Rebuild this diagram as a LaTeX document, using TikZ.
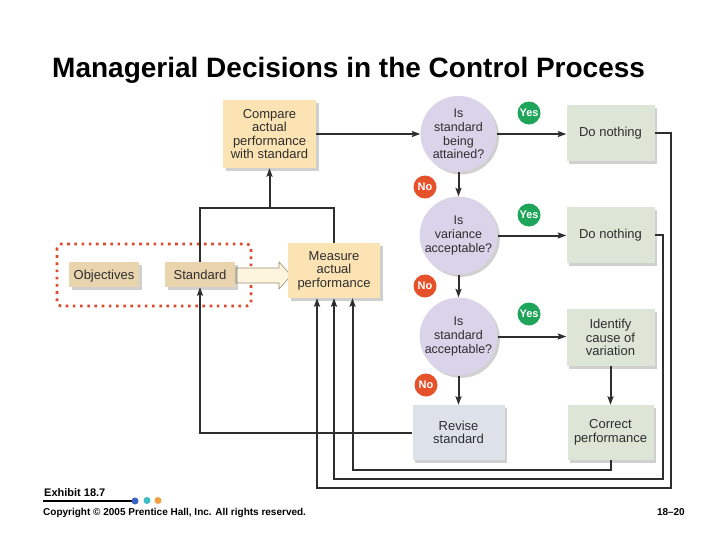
\documentclass[tikz,border=0pt]{standalone}
\usepackage{fontspec}
\setmainfont{Liberation Sans}
\usetikzlibrary{shadows,arrows.meta}
\definecolor{peach}{HTML}{FCE3B4}
\definecolor{tan}{HTML}{E9D4AE}
\definecolor{lav}{HTML}{DAD3E9}
\definecolor{sage}{HTML}{DCE5D6}
\definecolor{bluegray}{HTML}{DDE2EA}
\definecolor{yesgreen}{HTML}{1FA55A}
\definecolor{nored}{HTML}{E4512A}
\definecolor{dotred}{HTML}{DC4A2E}
\definecolor{lc}{HTML}{2E2E2E}
\definecolor{txt}{HTML}{2E2E2E}
\definecolor{hollowfill}{HTML}{FDF5DE}
\definecolor{hollowline}{HTML}{9C8E72}
\definecolor{dotblue}{HTML}{3A62C6}
\definecolor{dotteal}{HTML}{3BBFC4}
\definecolor{dotorange}{HTML}{F0A040}
\newcommand{\boxfont}{\fontsize{13}{13.6}\selectfont}
\newcommand{\circfont}{\fontsize{12.5}{13.8}\selectfont}
\tikzset{
  shad/.style={drop shadow={shadow xshift=2.5pt,shadow yshift=-2.5pt,opacity=0.3,fill=black!60}},
  boxbase/.style={shad,align=center,inner sep=0pt,font=\boxfont,text=txt},
  pbox/.style={boxbase,fill=peach},
  tbox/.style={shad,inner sep=0pt,font=\boxfont,text=txt,fill=tan,minimum width=70pt,minimum height=25pt,text height=10pt,text depth=0.7pt},
  gbox/.style={boxbase,fill=sage,minimum width=88pt,minimum height=56pt},
  dec/.style={shad,circle,fill=lav,minimum size=76pt,inner sep=0pt,align=center,font=\circfont,text=txt},
  badge/.style={circle,minimum size=23pt,inner sep=0pt,font=\fontsize{11}{11}\selectfont\bfseries,text=white},
  conn/.style={draw=lc,line width=2pt},
  conna/.style={conn,-{Stealth[length=8.5pt,width=6pt,inset=1.5pt]}}
}
\begin{document}
\begin{tikzpicture}[x=1pt,y=-1pt]
\useasboundingbox (0,0) rectangle (728,546);
\fill[white] (0,0) rectangle (728,546);

% title
\node[anchor=base west,inner sep=0pt,font=\fontsize{28}{28}\selectfont\bfseries] (title) at (52,77) {Managerial Decisions in the Control Process};

% dotted boundary
\draw[dotred,line width=2.6pt,dash pattern=on 2.6pt off 4.6pt,rounded corners=4pt] (57,244) rectangle (251,306);

% hollow arrow
\draw[hollowline,fill=hollowfill,line width=0.6pt] (236,268) -- (279,268) -- (279,262) -- (291,275.5) -- (279,289) -- (279,283) -- (236,283) -- cycle;

% nodes
\node[pbox,minimum width=93pt,minimum height=68pt] (compare) at (269.5,134) {Compare\\actual\\performance\\with standard};
\node[tbox] (objectives) at (104,274.5) {Objectives};
\node[tbox] (standard) at (200,274.5) {Standard};
\node[pbox,minimum width=92pt,minimum height=55pt] (measure) at (334,270.5) {Measure\\actual\\performance};

\node[dec] (c1) at (458.5,134) {Is\\standard\\being\\attained?};
\node[dec] (c2) at (458.5,235.5) {Is\\variance\\acceptable?};
\node[dec] (c3) at (458.5,336.5) {Is\\standard\\acceptable?};

\node[gbox] (dn1) at (610.5,133) {Do nothing};
\node[gbox] (dn2) at (610.5,235) {Do nothing};
\node[gbox,minimum height=57pt] (identify) at (610.5,337.5) {Identify\\cause of\\variation};
\node[gbox,minimum width=86pt,minimum height=55pt] (correct) at (610.5,432.5) {Correct\\performance};
\node[boxbase,fill=bluegray,minimum width=92pt,minimum height=55pt] (revise) at (458.5,432.5) {Revise\\standard};

\node[badge,fill=yesgreen] (y1) at (529,113) {Yes};
\node[badge,fill=yesgreen] (y2) at (529,215) {Yes};
\node[badge,fill=yesgreen] (y3) at (529,314) {Yes};
\node[badge,fill=nored] (n1) at (425,187) {No};
\node[badge,fill=nored] (n2) at (425,286) {No};
\node[badge,fill=nored] (n3) at (426,385) {No};

% junction coordinates
\coordinate (j1) at (269.5,208);
\coordinate (b1) at (0,470);
\coordinate (b2) at (0,479);
\coordinate (b3) at (0,488);
\coordinate (r2) at (663,0);
\coordinate (r3) at (671,0);

% connectors
\draw[conn] (standard.north) |- (j1) -| (measure.north);
\draw[conna] (j1) -- (compare.south);
\draw[conna] (compare.east |- c1.west) -- (c1.west);
\draw[conna] (c1.south) -- (c2.north);
\draw[conna] (c2.south) -- (c3.north);
\draw[conna] (c3.south) -- (revise.north);
\draw[conna] (c1.east) -- (c1.east -| dn1.west);
\draw[conna] (c2.east) -- (c2.east -| dn2.west);
\draw[conna] (c3.east) -- (c3.east -| identify.west);
\draw[conna] (identify.south) -- (correct.north);

\draw[conna] (revise.west) -| (standard.south);
\draw[conna] (correct.south) -- (correct.south |- b1) -| ([xshift=18.5pt]measure.south);
\draw[conna] (dn2.east) -- (r2 |- dn2.east) -- (r2 |- b2) -| (measure.south);
\draw[conna] (dn1.east) -- (r3 |- dn1.east) -- (r3 |- b3) -| ([xshift=-17pt]measure.south);

% footer
\node[anchor=base west,inner sep=0pt,font=\fontsize{11}{11}\selectfont\bfseries] (exhibit) at (44,496.5) {Exhibit 18.7};
\draw[black,line width=1.8pt] (43,501) -- (135,501);
\fill[dotblue] (135,501) circle (3.5pt);
\fill[dotteal] (147,500.5) circle (3.5pt);
\fill[dotorange] (158,500.5) circle (3.5pt);
\node[anchor=base west,inner sep=0pt,font=\fontsize{10}{10}\selectfont\bfseries] (copy) at (43,515.5) {Copyright © 2005 Prentice Hall, Inc. All rights reserved.};
\node[anchor=base east,inner sep=0pt,font=\fontsize{10}{10}\selectfont\bfseries] (page) at (685,515.5) {18–20};
\end{tikzpicture}
\end{document}
